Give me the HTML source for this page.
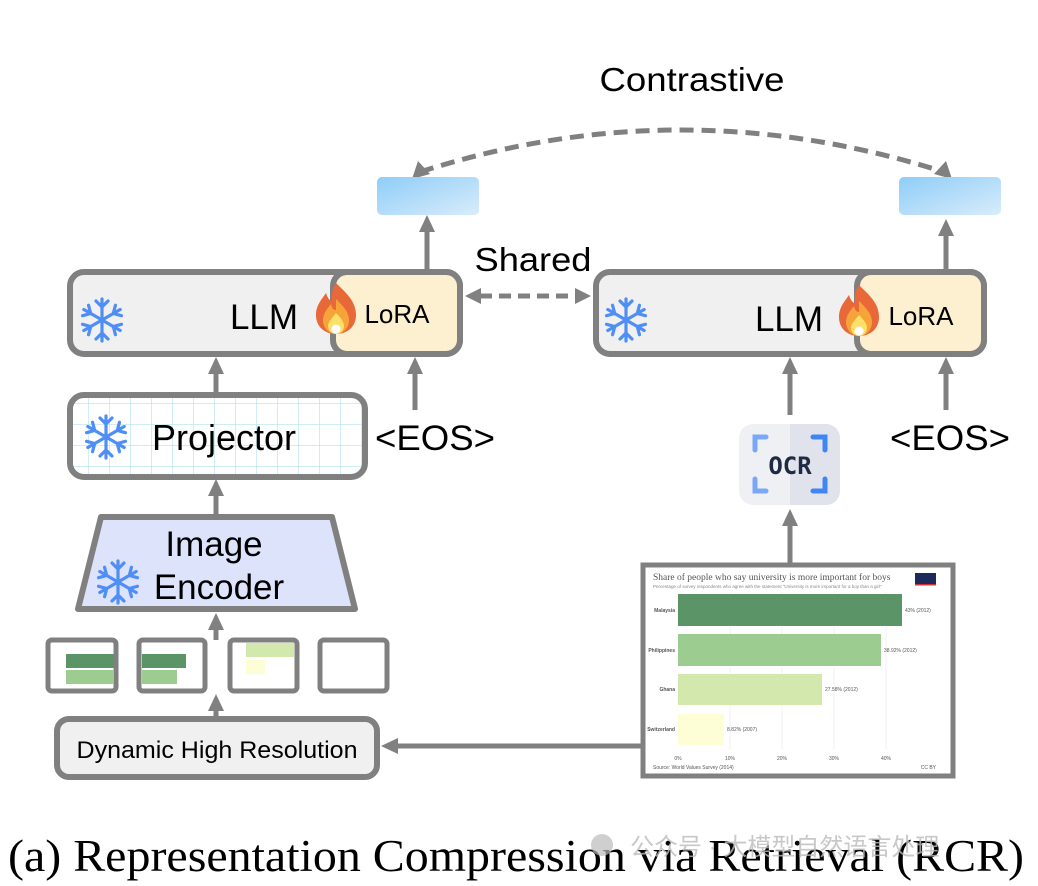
<!DOCTYPE html>
<html><head><meta charset="utf-8"><style>
html,body{margin:0;padding:0;background:#fff;}
svg{display:block}
.s{font-family:"Liberation Sans",Arial,sans-serif;fill:#000}
</style></head><body>
<svg width="1038" height="886" viewBox="0 0 1038 886" xmlns="http://www.w3.org/2000/svg">
<defs>
<linearGradient id="bl" x1="0" y1="0" x2="1" y2="1"><stop offset="0" stop-color="#8fcdf7"/><stop offset="1" stop-color="#d8ecfb"/></linearGradient>
<pattern id="grid" width="21" height="21" patternUnits="userSpaceOnUse" x="5" y="5">
<rect width="21" height="21" fill="#fff"/><path d="M21 0V21M0 21H21" stroke="#bfe7ee" stroke-width="1.5"/></pattern>
<g id="snow" stroke="#4f8ef5" stroke-width="3.2" stroke-linecap="round" fill="none">
<g id="arm"><path d="M0 0V-21M0 -13L-6 -19M0 -13L6 -19"/></g>
<use href="#arm" transform="rotate(60)"/><use href="#arm" transform="rotate(120)"/>
<use href="#arm" transform="rotate(180)"/><use href="#arm" transform="rotate(240)"/><use href="#arm" transform="rotate(300)"/>
</g>
<g id="fire">
<path d="M0 -26 C10 -16 20 -8 20 6 C20 18 11 25 0 25 C-11 25 -20 18 -20 6 C-20 -4 -14 -10 -10 -16 C-8 -10 -6 -8 -4 -8 C-5 -16 -3 -22 0 -26 Z" fill="#e8683a"/>
<path d="M0 -10 C7 -3 13 3 13 11 C13 19 7 25 0 25 C-7 25 -13 19 -13 11 C-13 4 -8 -1 -5 -5 C-4 0 -2 1 0 1 Z" fill="#f6a43a"/>
<path d="M0 4 C5 9 8 13 8 17 C8 22 4 25 0 25 C-4 25 -8 22 -8 17 C-8 13 -4 9 0 4 Z" fill="#fde06a"/>
<circle cx="0" cy="20" r="4.5" fill="#fff"/>
</g>
</defs>

<text x="692" y="91" class="s" font-size="33" text-anchor="middle" textLength="185" lengthAdjust="spacingAndGlyphs">Contrastive</text>
<path d="M420 172 Q680 88 944 172" stroke="#808080" stroke-width="5" fill="none" stroke-dasharray="14 8"/>
<path d="M412 179 L418 161 L430 174 Z" fill="#808080"/>
<path d="M952 179 L946 161 L934 174 Z" fill="#808080"/>

<rect x="377" y="177" width="102" height="38" rx="5" fill="url(#bl)"/>
<rect x="899" y="177" width="102" height="38" rx="5" fill="url(#bl)"/>

<line x1="427" y1="270" x2="427" y2="228" stroke="#808080" stroke-width="5"/><path d="M419 232 L427 215 L435 232Z" fill="#808080"/>
<line x1="946" y1="270" x2="946" y2="232" stroke="#808080" stroke-width="5"/><path d="M938 236 L946 219 L954 236Z" fill="#808080"/>

<text x="533" y="271" class="s" font-size="33" text-anchor="middle" textLength="117" lengthAdjust="spacingAndGlyphs">Shared</text>
<line x1="480" y1="296" x2="576" y2="296" stroke="#808080" stroke-width="5" stroke-dasharray="12 7"/>
<path d="M465 296 L481 288 L481 304Z" fill="#808080"/>
<path d="M591 296 L575 288 L575 304Z" fill="#808080"/>

<rect x="70" y="272" width="390" height="82" rx="14" fill="#f0f0f0" stroke="#808080" stroke-width="6"/>
<rect x="333" y="272" width="127" height="82" rx="14" fill="#fdf0d0" stroke="#808080" stroke-width="6"/>
<use href="#snow" x="102" y="320"/>
<text x="264" y="329" class="s" font-size="35" text-anchor="middle">LLM</text>
<use href="#fire" x="336" y="309"/>
<text x="397" y="323" class="s" font-size="26" text-anchor="middle">LoRA</text>

<rect x="596" y="272" width="388" height="82" rx="14" fill="#f0f0f0" stroke="#808080" stroke-width="6"/>
<rect x="857" y="272" width="127" height="82" rx="14" fill="#fdf0d0" stroke="#808080" stroke-width="6"/>
<use href="#snow" x="626" y="320"/>
<text x="789" y="331" class="s" font-size="35" text-anchor="middle">LLM</text>
<use href="#fire" x="859" y="311"/>
<text x="921" y="325" class="s" font-size="26" text-anchor="middle">LoRA</text>

<rect x="70" y="395" width="295" height="82" rx="14" fill="url(#grid)" stroke="#808080" stroke-width="6"/>
<use href="#snow" x="106" y="437"/>
<text x="224" y="450" class="s" font-size="36" text-anchor="middle">Projector</text>

<text x="435" y="450" class="s" font-size="35" text-anchor="middle" textLength="120" lengthAdjust="spacingAndGlyphs">&lt;EOS&gt;</text>
<text x="950" y="450" class="s" font-size="35" text-anchor="middle" textLength="120" lengthAdjust="spacingAndGlyphs">&lt;EOS&gt;</text>
<line x1="415" y1="410" x2="415" y2="372" stroke="#808080" stroke-width="5"/><path d="M407 374 L415 357 L423 374Z" fill="#808080"/>
<line x1="946" y1="410" x2="946" y2="372" stroke="#808080" stroke-width="5"/><path d="M938 374 L946 357 L954 374Z" fill="#808080"/>
<line x1="790" y1="415" x2="790" y2="372" stroke="#808080" stroke-width="5"/><path d="M782 374 L790 357 L798 374Z" fill="#808080"/>

<line x1="216" y1="393" x2="216" y2="372" stroke="#808080" stroke-width="5"/><path d="M208 374 L216 357 L224 374Z" fill="#808080"/>
<line x1="216" y1="516" x2="216" y2="494" stroke="#808080" stroke-width="5"/><path d="M208 496 L216 479 L224 496Z" fill="#808080"/>

<path d="M101 517 L332 517 L355 609 L78 609 Z" fill="#dde3fb" stroke="#808080" stroke-width="6" stroke-linejoin="round"/>
<use href="#snow" x="118" y="582"/>
<text x="214" y="556" class="s" font-size="35" text-anchor="middle">Image</text>
<text x="219" y="599" class="s" font-size="35" text-anchor="middle">Encoder</text>

<g stroke="#808080" stroke-width="5" fill="#fff">
<rect x="48" y="640" width="68" height="51" rx="4"/>
<rect x="139" y="640" width="66" height="51" rx="4"/>
<rect x="230" y="640" width="67" height="51" rx="4"/>
<rect x="320" y="640" width="67" height="51" rx="4"/>
</g>
<rect x="66" y="654" width="48" height="14" fill="#5a9467"/><rect x="66" y="670" width="48" height="14" fill="#9dcc90"/>
<rect x="142" y="654" width="44" height="14" fill="#5a9467"/><rect x="142" y="670" width="35" height="14" fill="#9dcc90"/>
<rect x="246" y="643" width="48" height="14" fill="#d2e8ac"/><rect x="246" y="660" width="19" height="14" fill="#fefed6"/>
<line x1="216" y1="640" x2="216" y2="628" stroke="#808080" stroke-width="5"/><path d="M208 630 L216 613 L224 630Z" fill="#808080"/>
<line x1="216" y1="718" x2="216" y2="709" stroke="#808080" stroke-width="5"/><path d="M208 711 L216 694 L224 711Z" fill="#808080"/>

<rect x="57" y="719" width="320" height="58" rx="12" fill="#f0f0f0" stroke="#808080" stroke-width="6"/>
<text x="217" y="758" class="s" font-size="24" text-anchor="middle" textLength="281" lengthAdjust="spacingAndGlyphs">Dynamic High Resolution</text>
<line x1="641" y1="746" x2="396" y2="746" stroke="#808080" stroke-width="5"/><path d="M398 738 L381 746 L398 754Z" fill="#808080"/>

<rect x="643" y="565" width="310" height="211" fill="#fff" stroke="#808080" stroke-width="5"/>
<text x="653" y="580" font-family="Liberation Serif,serif" font-size="9.5" fill="#555">Share of people who say university is more important for boys</text>
<text x="653" y="588" font-family="Liberation Sans,sans-serif" font-size="4.5" fill="#888">Percentage of survey respondents who agree with the statement "University is more important for a boy than a girl"</text>
<rect x="915" y="573" width="21" height="12" fill="#1c2b5a"/><rect x="915" y="584" width="21" height="1.5" fill="#c33"/>
<g stroke="#eee" stroke-width="0.8"><line x1="730" y1="592" x2="730" y2="750"/><line x1="782" y1="592" x2="782" y2="750"/><line x1="834" y1="592" x2="834" y2="750"/><line x1="886" y1="592" x2="886" y2="750"/></g>
<rect x="678" y="594" width="224" height="32" fill="#5a9467"/>
<rect x="678" y="634" width="203" height="32" fill="#9dcc90"/>
<rect x="678" y="674" width="144" height="31" fill="#d2e8ac"/>
<rect x="678" y="714" width="46" height="31" fill="#fefed6"/>
<g font-family="Liberation Sans,sans-serif" font-size="5" fill="#555">
<text x="675" y="612" text-anchor="end" font-weight="bold">Malaysia</text>
<text x="675" y="652" text-anchor="end" font-weight="bold">Philippines</text>
<text x="675" y="691" text-anchor="end" font-weight="bold">Ghana</text>
<text x="675" y="731" text-anchor="end" font-weight="bold">Switzerland</text>
<text x="905" y="612">43% (2012)</text><text x="884" y="652">38.92% (2012)</text>
<text x="825" y="691">27.58% (2012)</text><text x="727" y="731">8.82% (2007)</text>
<text x="678" y="760" text-anchor="middle">0%</text><text x="730" y="760" text-anchor="middle">10%</text>
<text x="782" y="760" text-anchor="middle">20%</text><text x="834" y="760" text-anchor="middle">30%</text><text x="886" y="760" text-anchor="middle">40%</text>
<text x="653" y="769">Source: World Values Survey (2014)</text><text x="936" y="769" text-anchor="end">CC BY</text>
</g>

<line x1="790" y1="564" x2="790" y2="524" stroke="#808080" stroke-width="5"/><path d="M782 526 L790 509 L798 526Z" fill="#808080"/>
<rect x="739" y="424" width="101" height="81" rx="14" fill="#eef0f4"/>
<path d="M790 424 H826 a14 14 0 0 1 14 14 V491 a14 14 0 0 1 -14 14 H790Z" fill="#e0e3eb"/>
<g stroke-width="5" fill="none" stroke-linecap="round">
<path d="M755 450 V437 H766" stroke="#7aa8f8"/><path d="M813 437 H825 V450" stroke="#3f86f4"/>
<path d="M755 479 V491 H766" stroke="#7aa8f8"/><path d="M813 491 H825 V479" stroke="#3f86f4"/>
</g>
<text x="790" y="474" font-family="DejaVu Sans Mono,Liberation Mono,monospace" font-weight="bold" font-size="24" fill="#1f2a44" text-anchor="middle">OCR</text>

<text x="8" y="871" font-family="Liberation Serif,serif" font-size="45" fill="#000" textLength="1016" lengthAdjust="spacingAndGlyphs">(a) Representation Compression via Retrieval (RCR)</text>
<text x="630" y="855" font-family="Liberation Sans,'Noto Sans CJK SC',sans-serif" font-size="24" fill="#bbb" opacity="0.8">公众号 · 大模型自然语言处理</text>
<circle cx="602" cy="845" r="11" fill="#bbb" opacity="0.7"/>
</svg>
</body></html>
